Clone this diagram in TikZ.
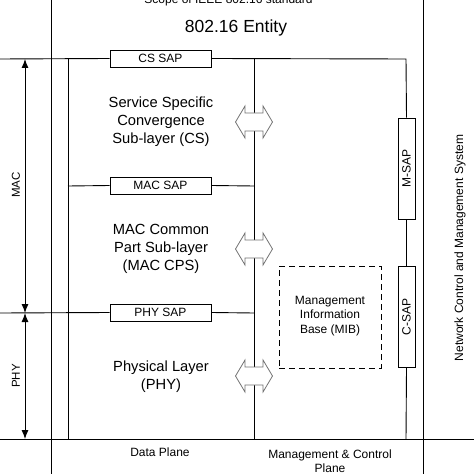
\documentclass[tikz,border=0pt]{standalone}
\usepackage{fontspec}
\setmainfont{Liberation Sans}
\usetikzlibrary{arrows.meta}
\begin{document}
\begin{tikzpicture}[x=1bp,y=-1bp,line width=0.9bp,
  sapbox/.style={draw,fill=white,minimum width=101bp,minimum height=17bp,inner sep=0pt,font=\fontsize{12bp}{14bp}\selectfont},
  vsapbox/.style={draw,fill=white,minimum width=101bp,minimum height=17bp,inner sep=0pt,rotate=90,font=\fontsize{12bp}{14bp}\selectfont},
  layertext/.style={align=center,inner sep=0pt,font=\fontsize{14.7bp}{18bp}\selectfont},
  smalltext/.style={align=center,inner sep=0pt,font=\fontsize{12bp}{14.5bp}\selectfont},
  dimarrow/.style={{Latex[length=9bp,width=7bp]}-{Latex[length=9bp,width=7bp]}},
  dblarrow/.style={draw=black!55,fill=white,line width=0.8bp},
  mibbox/.style={draw,dashed,dash pattern=on 6bp off 4bp,minimum width=102bp,minimum height=102bp,inner sep=0pt}]
\useasboundingbox (0,0) rectangle (474,474);
\clip (0,0) rectangle (474,474);

% frame coordinates
\coordinate (oT) at (51,0);   \coordinate (oB) at (51,474);
\coordinate (rT) at (423,0);  \coordinate (rB) at (423,474);
\coordinate (iT) at (68,59);  \coordinate (iB) at (68,439);
\coordinate (bL) at (0,439);  \coordinate (bR) at (474,439);
\coordinate (cT) at (254,59); \coordinate (cB) at (254,439);
\coordinate (csL) at (0,59);
\coordinate (macL) at (68,186); \coordinate (macR) at (254,186);
\coordinate (phyL) at (0,313);  \coordinate (phyR) at (254,313);
\coordinate (msC) at (406,59);  \coordinate (csapB) at (406,439);

\draw (oT) -- (oB);
\draw (rT) -- (rB);
\draw (iT) -- (iB);
\draw (bL) -- (bR);
\draw (cT) -- (cB);

% SAP boxes
\node[sapbox] (cs)  at (160.5,58.5)  {CS SAP};
\node[sapbox] (mac) at (160.5,185.5) {MAC SAP};
\node[sapbox] (phy) at (160.5,312.5) {PHY SAP};
\node[vsapbox] (msap) at (406.5,168.5) {M-SAP};
\node[vsapbox] (csap) at (406.5,317) {C-SAP};

\draw (csL) -- (cs.west);
\draw (cs.east) -- (msC) -- (msap.east);
\draw (msap.west) -- (csap.east);
\draw (csap.west) -- (csapB);
\draw (macL) -- (mac.west);
\draw (mac.east) -- (macR);
\draw (phyL) -- (phy.west);
\draw (phy.east) -- (phyR);

% double arrows on the central line
\foreach \n/\cy in {da1/122,da2/249,da3/376}{
  \coordinate (\n) at (254,\cy);
  \draw[dblarrow] ([shift={(-18.5,0)}]\n) -- ++(9.5,-16) -- ++(0,7) -- ++(18,0) -- ++(0,-7)
     -- ++(9.5,16) -- ++(-9.5,16) -- ++(0,-7) -- ++(-18,0) -- ++(0,7) -- cycle;
}

% MIB
\node[mibbox] (mib) at (330,317) {};
\node[smalltext] (mibt) at (330,316) {Management\\Information\\Base (MIB)};

% texts
\node[anchor=base,inner sep=0pt,font=\fontsize{12bp}{14bp}\selectfont] (title) at (228.5,4) {Scope of IEEE 802.16 standard};
\node[inner sep=0pt,font=\fontsize{17.5bp}{20bp}\selectfont] (entity) at (236,28) {802.16 Entity};
\node[layertext] (cstext) at (161,122) {Service Specific\\Convergence\\Sub-layer (CS)};
\node[layertext] (cpstext) at (161,248.5) {MAC Common\\Part Sub-layer\\(MAC CPS)};
\node[layertext] (phytext) at (161,377) {Physical Layer\\(PHY)};
\node[smalltext] (dp) at (160,452) {Data Plane};
\node[smalltext,font=\fontsize{12bp}{14bp}\selectfont] (mcp) at (330,461) {Management \& Control\\Plane};
\node[smalltext,rotate=90] (ncms) at (460,248) {Network Control and Management System};

% left dimension arrows
\coordinate (aT) at (25,59); \coordinate (aM) at (25,313); \coordinate (aB) at (25,439);
\draw[dimarrow] (aT) -- (aM);
\draw[dimarrow] (aM) -- (aB);
\node[smalltext,rotate=90,font=\fontsize{11.5bp}{14bp}\selectfont] (maclab) at (16,185) {MAC};
\node[smalltext,rotate=90,font=\fontsize{11.5bp}{14bp}\selectfont] (phylab) at (16,376) {PHY};
\end{tikzpicture}
\end{document}
